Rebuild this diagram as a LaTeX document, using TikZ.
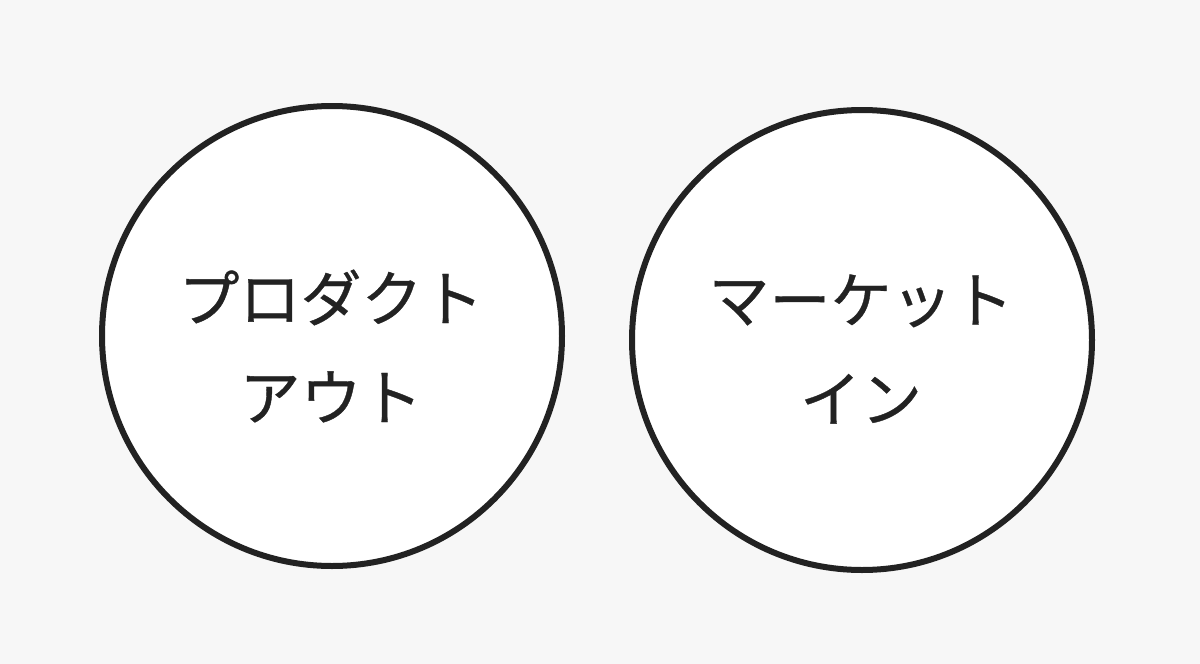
\documentclass[tikz,border=0pt]{standalone}
\usepackage{fontspec}
\newfontfamily\cjk[FakeBold=0.6]{Noto Sans CJK JP}
\definecolor{bg}{HTML}{F7F7F7}
\definecolor{ink}{HTML}{222222}
\begin{document}
\begin{tikzpicture}[x=1pt,y=-1pt,
  circ/.style={circle,draw=ink,fill=white,line width=6pt,minimum size=460pt,inner sep=0pt},
  lbl/.style={align=center,text=ink,inner sep=0pt,font=\cjk\fontsize{61}{99}\selectfont}]
\fill[bg] (0,0) rectangle (1200,664);
\useasboundingbox (0,0) rectangle (1200,664);
\node[circ] (L) at (332,336) {};
\node[circ] (R) at (862,340) {};
\node[lbl] (Lt) at (331,346) {プロダクト\\アウト};
\node[lbl] (Rt) at (861,349) {マーケット\\イン};
\end{tikzpicture}
\end{document}
